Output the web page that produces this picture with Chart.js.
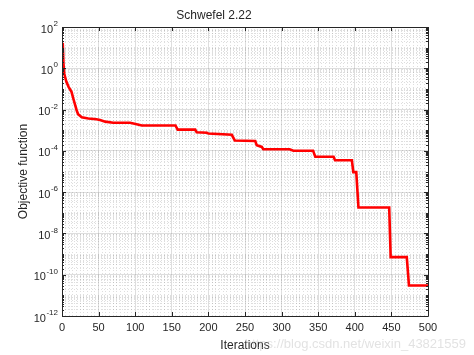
<!DOCTYPE html>
<html>
<head>
<meta charset="utf-8">
<script src="https://cdn.jsdelivr.net/npm/chart.js@4.4.1/dist/chart.umd.min.js"></script>
<style>
  html, body { margin: 0; padding: 0; background: #ffffff; }
  #wrap { width: 474px; height: 355px; }
</style>
</head>
<body>
<div id="wrap"><canvas id="c" width="474" height="355"></canvas></div>
<script>
// ---- data ----
const chartTitle = "Schwefel 2.22";
const xAxisLabel = "Iterations";
const yAxisLabel = "Objective function";
const watermark = "https://blog.csdn.net/weixin_43821559";

const iterations = [1,2,3,6,9,13,16,20,22,27,36,47,52,59,70,93,102,109,155,158,182,184,198,200,232,236,264,266,273,275,311,316,343,346,371,373,396,398,402,405,447,449,471,474,500];
const objectiveValues = [17,1.7,0.56,0.22,0.126,0.072,0.029,0.0093,0.006,0.0042,0.0037,0.0034,0.0031,0.0026,0.0023,0.0023,0.00195,0.0017,0.0017,0.00107,0.00107,0.00079,0.00075,0.00069,0.0006,0.00032,0.0003,0.000186,0.000155,0.00012,0.00012,0.000102,0.000102,0.000052,0.000052,0.000035,0.000035,0.0000093,0.0000093,1.8e-7,1.8e-7,7.1e-10,7.1e-10,3.0e-11,3.0e-11];

const xTickLabels = [0,50,100,150,200,250,300,350,400,450,500];
const yTickExponents = [2,0,-2,-4,-6,-8,-10,-12];

// ---- helpers ----
function decadeInfo(v){
  const e = Math.log10(v);
  const r = Math.round(e);
  return { isDecade: Math.abs(e - r) < 1e-6, exp: r };
}
function isMajorY(v){
  const d = decadeInfo(v);
  return d.isDecade && yTickExponents.includes(d.exp);
}

const points = iterations.map((x, i) => ({ x: x, y: objectiveValues[i] }));

const FONT = '"Liberation Sans", Arial, Helvetica, sans-serif';
const AXIS_COLOR = '#262626';
const MAJOR_GRID = 'rgba(0,0,0,0.13)';
const MINOR_GRID = 'rgba(0,0,0,0.13)';

const boxPlugin = {
  id: 'boxPlugin',
  afterDatasetsDraw(chart) {
    const ctx = chart.ctx;
    const a = chart.chartArea;
    const xs = chart.scales.x, ys = chart.scales.y;
    ctx.save();
    ctx.strokeStyle = AXIS_COLOR;
    ctx.lineWidth = 1;
    ctx.beginPath();
    ctx.rect(Math.round(a.left) + 0.5, Math.round(a.top) + 0.5, Math.round(a.right - a.left), Math.round(a.bottom - a.top));
    ctx.stroke();
    ctx.beginPath();
    xTickLabels.forEach(v => {
      const px = Math.round(xs.getPixelForValue(v)) + 0.5;
      ctx.moveTo(px, a.bottom); ctx.lineTo(px, a.bottom - 4);
      ctx.moveTo(px, a.top); ctx.lineTo(px, a.top + 4);
    });
    ys.ticks.forEach(t => {
      const len = isMajorY(t.value) ? 4 : 2;
      const py = Math.round(ys.getPixelForValue(t.value)) + 0.5;
      ctx.moveTo(a.left, py); ctx.lineTo(a.left + len, py);
      ctx.moveTo(a.right, py); ctx.lineTo(a.right - len, py);
    });
    ctx.stroke();

    // y tick labels: "10" with a raised exponent
    ctx.fillStyle = AXIS_COLOR;
    ctx.textBaseline = 'middle';
    ctx.textAlign = 'left';
    const rightEdge = a.left - 4;
    yTickExponents.forEach(e => {
      const py = ys.getPixelForValue(Math.pow(10, e));
      const expStr = String(e);
      ctx.font = '8px ' + FONT;
      const ew = ctx.measureText(expStr).width;
      ctx.font = '11px ' + FONT;
      const bw = ctx.measureText('10').width;
      const x0 = rightEdge - ew - bw - 0.5;
      ctx.fillText('10', x0, py + 2.5);
      ctx.font = '8px ' + FONT;
      ctx.fillText(expStr, x0 + bw + 0.5, py - 3);
    });
    ctx.restore();
  },
  afterDraw(chart) {
    const ctx = chart.ctx;
    ctx.save();
    ctx.font = '13px ' + FONT;
    ctx.fillStyle = 'rgba(190,190,190,0.45)';
    ctx.textAlign = 'right';
    ctx.textBaseline = 'middle';
    ctx.fillText(watermark, 466, 344);
    ctx.restore();
  }
};

new Chart(document.getElementById('c'), {
  type: 'line',
  data: {
    datasets: [{
      data: points,
      borderColor: '#ff0000',
      borderWidth: 2.6,
      pointRadius: 0,
      fill: false,
      tension: 0
    }]
  },
  options: {
    responsive: false,
    animation: false,
    devicePixelRatio: 1,
    layout: { padding: { top: 0, right: 46, bottom: 0, left: 0 } },
    plugins: {
      legend: { display: false },
      tooltip: { enabled: false },
      title: {
        display: true,
        text: chartTitle,
        color: AXIS_COLOR,
        font: { family: FONT, size: 12, weight: 'normal', lineHeight: 1.2 },
        padding: { top: 8, bottom: 4.6 }
      }
    },
    scales: {
      x: {
        type: 'linear',
        min: 0,
        max: 500,
        afterBuildTicks(scale) {
          const t = [];
          for (let v = 0; v <= 500; v += 5) t.push({ value: v });
          scale.ticks = t;
        },
        afterFit(scale) { scale.height = 39; },
        ticks: {
          autoSkip: false,
          maxRotation: 0,
          padding: 5,
          color: AXIS_COLOR,
          font: { family: FONT, size: 11 },
          callback(v) { return xTickLabels.includes(v) ? String(v) : ''; }
        },
        grid: {
          drawTicks: false,
          color(ctx) {
            if (!ctx.tick) return MINOR_GRID;
            return (ctx.tick.value % 50 === 0) ? MAJOR_GRID : MINOR_GRID;
          },
          lineWidth: 1
        },
        border: {
          display: false,
          dash(ctx) {
            if (!ctx.tick) return [];
            return (ctx.tick.value % 50 === 0) ? [] : [1, 2];
          }
        },
        title: {
          display: true,
          text: xAxisLabel,
          color: AXIS_COLOR,
          font: { family: FONT, size: 12, lineHeight: 1.2 },
          padding: { top: 0, bottom: 2 }
        }
      },
      y: {
        type: 'logarithmic',
        min: 1e-12,
        max: 1e2,
        afterBuildTicks(scale) {
          const t = [];
          for (let e = -12; e < 2; e++) {
            for (let m = 1; m <= 9; m++) t.push({ value: m * Math.pow(10, e) });
          }
          t.push({ value: 100 });
          scale.ticks = t;
        },
        afterFit(scale) { scale.width = 62; },
        ticks: {
          display: false,
          autoSkip: false
        },
        grid: {
          drawTicks: false,
          color(ctx) {
            if (!ctx.tick) return MINOR_GRID;
            return isMajorY(ctx.tick.value) ? MAJOR_GRID : MINOR_GRID;
          },
          lineWidth: 1
        },
        border: {
          display: false,
          dash(ctx) {
            if (!ctx.tick) return [];
            return isMajorY(ctx.tick.value) ? [] : [1, 2];
          }
        },
        title: {
          display: true,
          text: yAxisLabel,
          color: AXIS_COLOR,
          font: { family: FONT, size: 12, lineHeight: 1.2 },
          padding: { top: 16, bottom: 0 }
        }
      }
    }
  },
  plugins: [boxPlugin]
});
</script>
</body>
</html>
